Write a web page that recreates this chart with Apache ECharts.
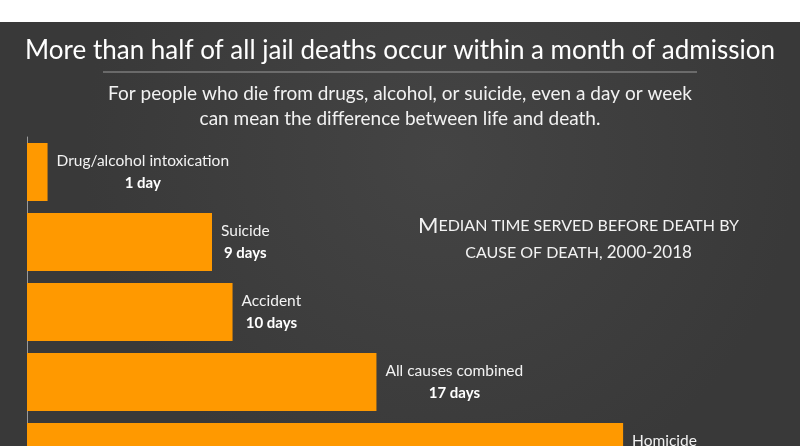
<!DOCTYPE html>
<html><head><meta charset="utf-8">
<script src="https://cdn.jsdelivr.net/npm/echarts@6/dist/echarts.min.js"></script>
<style>html,body{margin:0;padding:0;background:#fff}#c{width:800px;height:446px}</style>
</head><body><div id="c"></div>
<script>
const categories = ['Drug/alcohol intoxication','Suicide','Accident','All causes combined','Homicide'];
const medianDays = [1, 9, 10, 17, 29];
const titleText = 'More than half of all jail deaths occur within a month of admission';
const subtitleText = 'For people who die from drugs, alcohol, or suicide, even a day or week\ncan mean the difference between life and death.';

const F = 'Lato, "Noto Sans", sans-serif';
const chart = echarts.init(document.getElementById('c'));
chart.setOption({
  backgroundColor: {
    type: 'radial', x: 0.55, y: 0.35, r: 0.8,
    colorStops: [{offset: 0, color: '#444444'}, {offset: 1, color: '#393939'}]
  },
  title: [
    {text: titleText, left: 'center', top: 33,
     textStyle: {color: '#fff', fontFamily: F, fontSize: 26, fontWeight: 'normal'}},
    {text: subtitleText, left: 'center', top: 76,
     textStyle: {color: '#f2f2f2', fontFamily: F, fontSize: 19, fontWeight: 'normal', lineHeight: 25, align: 'center'}}
  ],
  graphic: [
    {type: 'rect', shape: {x: 0, y: 0, width: 800, height: 22}, style: {fill: '#fff'}, z: 100},
    {type: 'line', shape: {x1: 103, y1: 72, x2: 697, y2: 72}, style: {stroke: '#9a9a9a', lineWidth: 1}},
    {type: 'text', left: 418, top: 215,
     style: {
       text: '{b|M}{s|EDIAN TIME SERVED BEFORE DEATH BY}\n{s|CAUSE OF DEATH, }{n|2000-2018}',
       align: 'center',
       rich: {
         b: {fontFamily: F, fontSize: 22, fill: '#f2f2f2', lineHeight: 27, align: 'center'},
         s: {fontFamily: F, fontSize: 16, fill: '#f2f2f2', lineHeight: 27, align: 'center'},
         n: {fontFamily: F, fontSize: 17, fill: '#f2f2f2', lineHeight: 27, align: 'center'}
       }
     }}
  ],
  grid: {left: 27, top: 137, width: 740, height: 350, containLabel: false, outerBoundsMode: 'none'},
  xAxis: {type: 'value', min: 0, max: 36, show: false, splitLine: {show: false}},
  yAxis: {
    type: 'category', data: categories, inverse: true,
    axisLine: {show: true, lineStyle: {color: '#9a9a9a', width: 1}},
    axisTick: {show: false}, axisLabel: {show: false}
  },
  series: [{
    type: 'bar', data: medianDays, barWidth: 58,
    itemStyle: {color: '#ff9900'},
    animation: false,
    label: {
      show: true, position: 'right', distance: 9,
      formatter: p => '{n|' + p.name + '}\n{v|' + p.value + (p.value === 1 ? ' day' : ' days') + '}',
      rich: {
        n: {fontFamily: F, fontSize: 15.5, color: '#f2f2f2', lineHeight: 23, align: 'center'},
        v: {fontFamily: F, fontSize: 15, fontWeight: 'bold', color: '#fff', lineHeight: 23, align: 'center'}
      }
    }
  }]
});
</script></body></html>
